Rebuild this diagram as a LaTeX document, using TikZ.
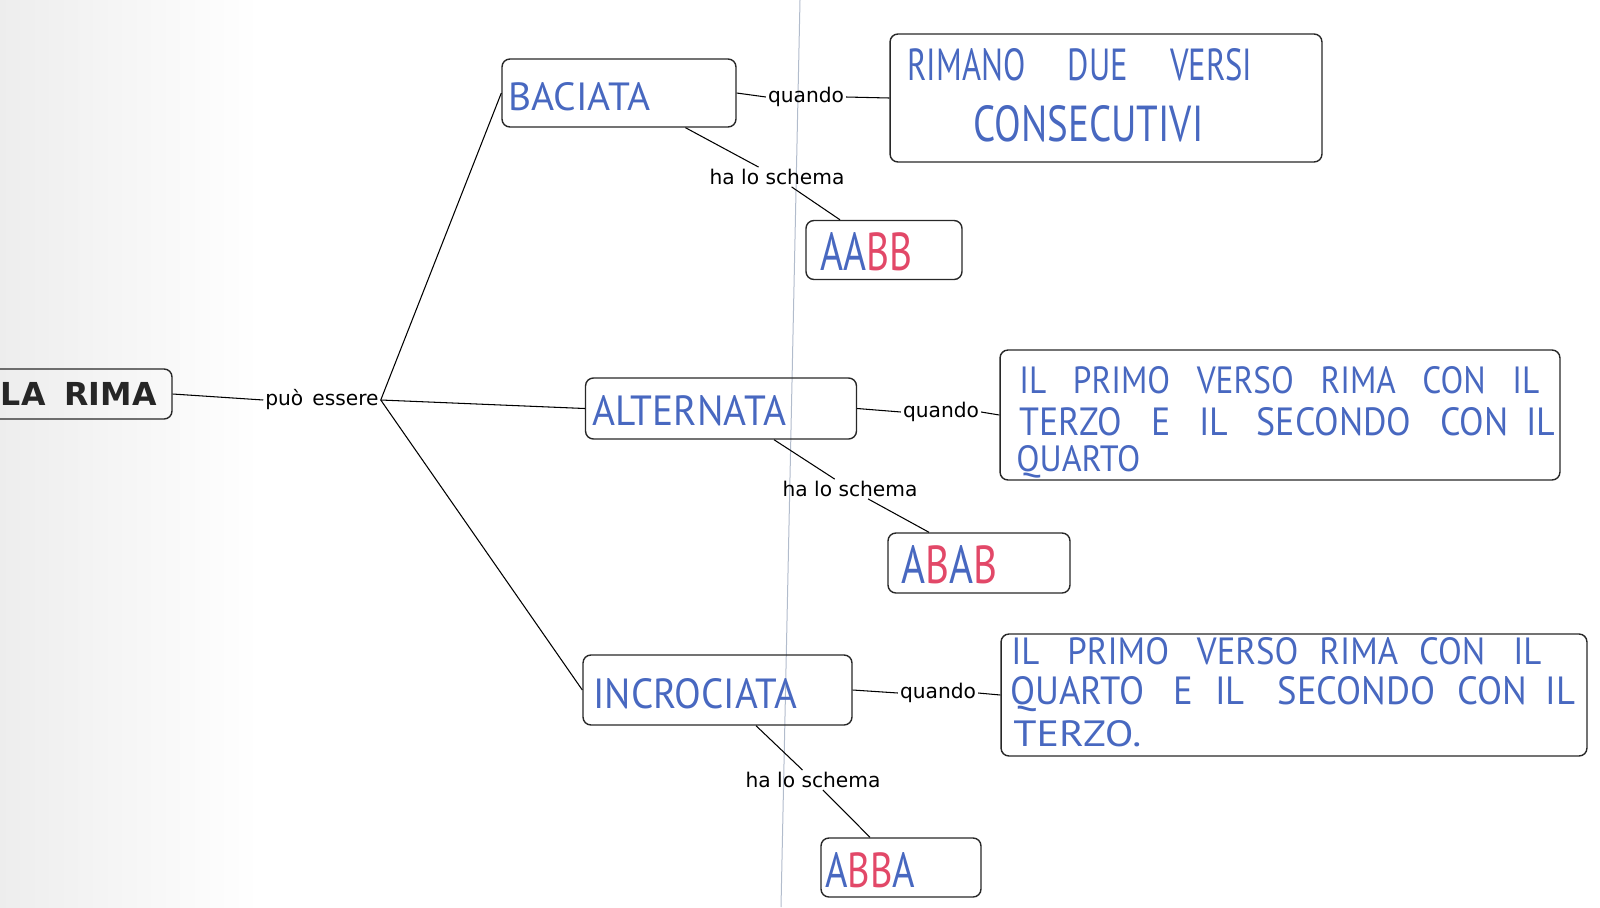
\documentclass[tikz,border=0pt]{standalone}
\usepackage{fontspec}
\usepackage{graphicx}
\setmainfont{DejaVu Sans}
\newfontfamily\hwfont{PT Sans}
\definecolor{hwblue}{RGB}{72,104,192}
\definecolor{hwred}{RGB}{226,72,104}
\definecolor{frame}{RGB}{40,40,40}
\definecolor{fold}{RGB}{178,188,204}
\newdimen\upx
\upx=0.02cm
\newcommand{\hw}[3]{\resizebox{#1\upx}{#2\upx}{\hwfont\color{hwblue}#3}}
\newcommand{\rd}[1]{{\color{hwred}#1}}
\tikzset{
  box/.style={draw=frame, line width=0.8pt, rounded corners=4.5pt, fill=none, inner sep=0pt},
  hwtext/.style={inner sep=0pt, anchor=base west},
  lbl/.style={font=\fontsize{11.5}{13}\selectfont, text=black, inner sep=1pt},
  conn/.style={draw=black, line width=0.6pt}
}
\begin{document}
\begin{tikzpicture}[x=0.02cm,y=-0.02cm]
\useasboundingbox (0,0) rectangle (1600,907);
% scan background
\fill[left color=black!7, right color=white] (0,0) rectangle (260,907);
\fill[fold] (799.5,0) -- (800.5,0) -- (781.5,907) -- (780.5,907) -- cycle;

% boxes
\node[box, minimum width=4.24cm, minimum height=1.0cm] (rima) at (66,394) {};
\node[box, minimum width=4.68cm, minimum height=1.36cm] (bac) at (619,93) {};
\node[box, minimum width=8.64cm, minimum height=2.56cm] (rim) at (1106,98) {};
\node[box, minimum width=3.12cm, minimum height=1.18cm] (aabb) at (884,250) {};
\node[box, minimum width=5.42cm, minimum height=1.22cm] (alt) at (721,408.5) {};
\node[box, minimum width=11.2cm, minimum height=2.6cm] (d1) at (1280,415) {};
\node[box, minimum width=3.64cm, minimum height=1.2cm] (abab) at (979,563) {};
\node[box, minimum width=5.38cm, minimum height=1.4cm] (inc) at (717.5,690) {};
\node[box, minimum width=11.72cm, minimum height=2.44cm] (d2) at (1294,695) {};
\node[box, minimum width=3.2cm, minimum height=1.18cm] (abba) at (901,867.5) {};

% box texts
\node[inner sep=0pt, anchor=base east, font=\bfseries\fontsize{18}{20}\selectfont, text=black!85] (t-rima) at (157,405) {LA\hspace{0.6em}RIMA};
\node[hwtext] (t-bac) at (508,110) {\hw{142}{28}{BACIATA}};
\node[hwtext] (t-rim1) at (907,80) {\hw{345}{32}{RIMANO\hspace{1.3em}DUE\hspace{1.3em}VERSI}};
\node[hwtext] (t-rim2) at (973,141) {\hw{230}{36}{CONSECUTIVI}};
\node[hwtext] (t-aabb) at (820,270) {\hw{92}{38}{AA\rd{BB}}};
\node[hwtext] (t-alt) at (592,425) {\hw{194}{30}{ALTERNATA}};
\node[hwtext] (t-d1a) at (1019,393) {\hw{520}{27}{IL\hspace{0.8em}PRIMO\hspace{0.8em}VERSO\hspace{0.8em}RIMA\hspace{0.8em}CON\hspace{0.8em}IL}};
\node[hwtext] (t-d1b) at (1019,435) {\hw{536}{28}{TERZO\hspace{0.8em}E\hspace{0.8em}IL\hspace{0.8em}SECONDO\hspace{0.8em}CON\hspace{0.5em}IL}};
\node[hwtext] (t-d1c) at (1016,471) {\hw{124}{26}{QUARTO}};
\node[hwtext] (t-abab) at (901,583) {\hw{96}{38}{A\rd{B}A\rd{B}}};
\node[hwtext] (t-inc) at (593,708) {\hw{204}{30}{INCROCIATA}};
\node[hwtext] (t-d2a) at (1011,664) {\hw{530}{27}{IL\hspace{0.8em}PRIMO\hspace{0.8em}VERSO\hspace{0.6em}RIMA\hspace{0.6em}CON\hspace{0.8em}IL}};
\node[hwtext] (t-d2b) at (1010,704) {\hw{565}{28}{QUARTO\hspace{0.8em}E\hspace{0.6em}IL\hspace{0.9em}SECONDO\hspace{0.6em}CON\hspace{0.5em}IL}};
\node[hwtext] (t-d2c) at (1013,746) {\hw{128}{26}{TERZO.}};
\node[hwtext] (t-abba) at (825,887) {\hw{90}{35}{A\rd{BB}A}};

% link labels
\node[lbl] (pe) at (322,400) {può\hspace{0.45em}essere};
\node[lbl] (q1) at (806,97) {quando};
\node[lbl] (h1) at (777,177) {ha lo schema};
\node[lbl] (q2) at (941,412) {quando};
\node[lbl] (h2) at (850,489) {ha lo schema};
\node[lbl] (q3) at (938,693) {quando};
\node[lbl] (h3) at (813,780) {ha lo schema};

% connectors
\draw[conn] (rima.east) -- (pe.west);
\draw[conn] (pe.east) -- (bac.west);
\draw[conn] (pe.east) -- (alt.west);
\draw[conn] (pe.east) -- (inc.west);
\draw[conn] (bac.east) -- (q1.west);
\draw[conn] (q1.east) -- (rim.west);
\draw[conn] ([xshift=1.33cm]bac.south) -- (h1);
\draw[conn] (h1) -- ([xshift=-0.88cm]aabb.north);
\draw[conn] (alt.east) -- (q2.west);
\draw[conn] (q2.east) -- (d1.west);
\draw[conn] ([xshift=1.06cm]alt.south) -- (h2);
\draw[conn] (h2) -- ([xshift=-1.0cm]abab.north);
\draw[conn] (inc.east) -- (q3.west);
\draw[conn] (q3.east) -- (d2.west);
\draw[conn] ([xshift=0.77cm]inc.south) -- (h3);
\draw[conn] (h3) -- ([xshift=-0.62cm]abba.north);
\end{tikzpicture}
\end{document}
